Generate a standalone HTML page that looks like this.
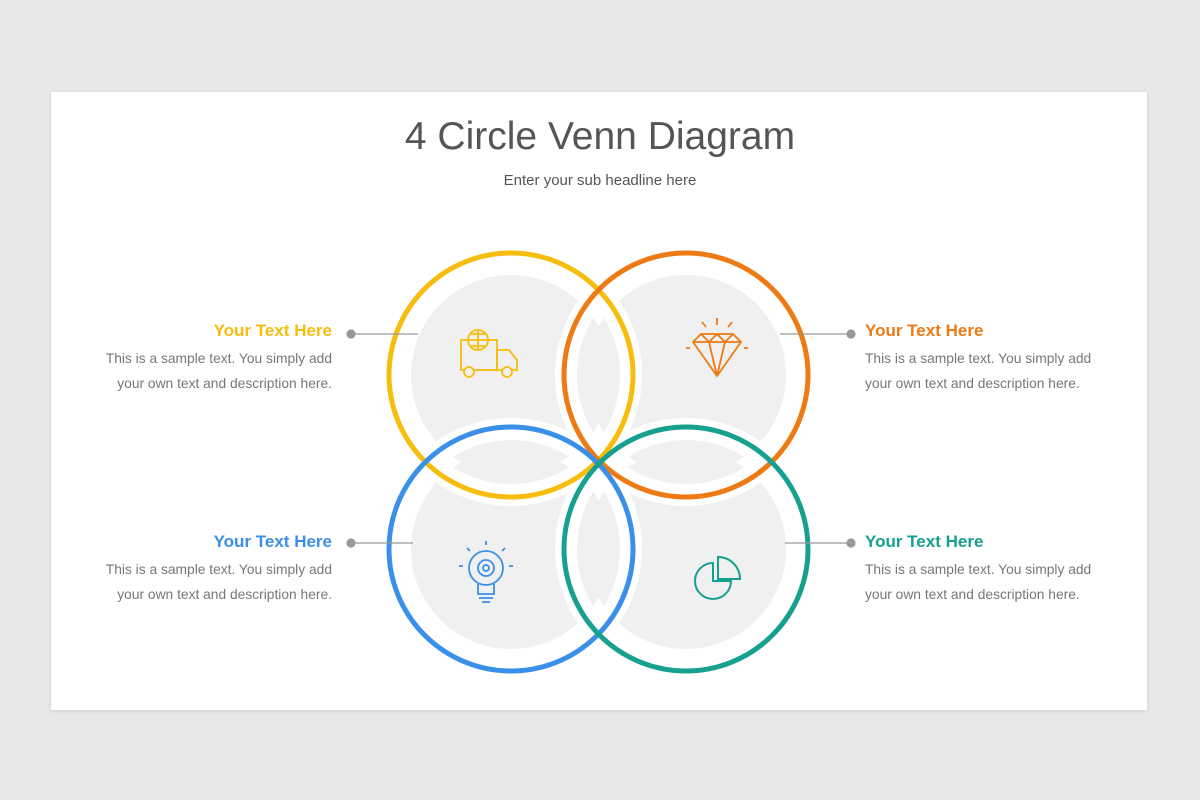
<!DOCTYPE html>
<html><head><meta charset="utf-8"><style>
body{margin:0;width:1200px;height:800px;background:#e9e7e9;font-family:"Liberation Sans",sans-serif;overflow:hidden;position:relative}
.card{position:absolute;left:51px;top:92px;width:1096px;height:618px;background:#fff;box-shadow:0 1px 4px rgba(0,0,0,.12)}
.t{position:absolute;white-space:nowrap}
h1{position:absolute;left:0;width:1200px;top:115px;margin:0;text-align:center;font-weight:normal;font-size:39px;color:#555}
.sub{left:0;width:1200px;text-align:center;top:172px;font-size:15px;color:#555}
.hd{font-weight:bold;font-size:17px}
.bd{font-size:13.8px;color:#777;line-height:25px}
.r{text-align:right}
</style></head><body>
<div class="card"></div>
<h1>4 Circle Venn Diagram</h1>
<div class="t sub">Enter your sub headline here</div>
<svg style="position:absolute;left:0;top:0" width="1200" height="800">
<g fill="#f0f0f0">
<circle cx="511" cy="375" r="100"/><circle cx="686" cy="375" r="100"/>
<circle cx="511" cy="549" r="100"/><circle cx="686" cy="549" r="100"/>
</g>
<g fill="none" stroke="#fff" stroke-width="22">
<circle cx="511" cy="375" r="120"/><circle cx="686" cy="375" r="120"/>
<circle cx="511" cy="549" r="120"/><circle cx="686" cy="549" r="120"/>
</g>
<g fill="none" stroke-width="5">
<circle cx="511" cy="375" r="122" stroke="#f7bd0c"/>
<circle cx="686" cy="375" r="122" stroke="#ee7a13"/>
<circle cx="511" cy="549" r="122" stroke="#3a8fe8"/>
<circle cx="686" cy="549" r="122" stroke="#16a08f"/>
</g>
<g stroke="#999" stroke-width="1.2" fill="#999">
<line x1="351" y1="334" x2="418" y2="334"/><circle cx="351" cy="334" r="4"/>
<line x1="780" y1="334" x2="851" y2="334"/><circle cx="851" cy="334" r="4"/>
<line x1="351" y1="543" x2="413" y2="543"/><circle cx="351" cy="543" r="4"/>
<line x1="785" y1="543" x2="851" y2="543"/><circle cx="851" cy="543" r="4"/>
</g>
<g fill="none" stroke="#f7bd0c" stroke-width="1.8">
<rect x="461" y="340" width="36" height="30"/><path d="M497 350h12l8 10v10h-20z"/>
<circle cx="469" cy="372" r="5" fill="#f0f0f0"/><circle cx="507" cy="372" r="5" fill="#f0f0f0"/>
<circle cx="478" cy="340" r="10" fill="#f0f0f0"/><path d="M468 340h20M478 330v20M471 334h14M471 346h14"/>
</g>
<g fill="none" stroke="#ee7a13" stroke-width="1.8">
<path d="M693 342l8-8h32l8 8-24 34z M693 342h48 M701 334l8 8 8-8 8 8 8-8 M709 342l8 34 8-34"/>
<path d="M717 318v7M702 322l4 5M732 322l-4 5M686 348h4M744 348h4"/>
</g>
<g fill="none" stroke="#3a8fe8" stroke-width="1.8">
<circle cx="486" cy="568" r="17"/><path d="M478 584v10h16v-10M479 598h14M482 602h8"/>
<circle cx="486" cy="568" r="8"/><circle cx="486" cy="568" r="3"/>
<path d="M486 545v-4M470 551l-3-3M502 551l3-3M463 566h-4M509 566h4"/>
</g>
<g fill="none" stroke="#16a08f" stroke-width="2">
<path d="M713 563v18h18a18 18 0 1 1-18-18z"/><path d="M718 557a22 22 0 0 1 22 22h-22z"/>
</g>
</svg>
<div class="t hd r" style="right:868px;top:321px;color:#f7bd0c">Your Text Here</div>
<div class="t bd r" style="right:868px;top:346px">This is a sample text. You simply add<br>your own text and description here.</div>
<div class="t hd" style="left:865px;top:321px;color:#ee7a13">Your Text Here</div>
<div class="t bd" style="left:865px;top:346px">This is a sample text. You simply add<br>your own text and description here.</div>
<div class="t hd r" style="right:868px;top:532px;color:#3a8fe8">Your Text Here</div>
<div class="t bd r" style="right:868px;top:557px">This is a sample text. You simply add<br>your own text and description here.</div>
<div class="t hd" style="left:865px;top:532px;color:#16a08f">Your Text Here</div>
<div class="t bd" style="left:865px;top:557px">This is a sample text. You simply add<br>your own text and description here.</div>
</body></html>
